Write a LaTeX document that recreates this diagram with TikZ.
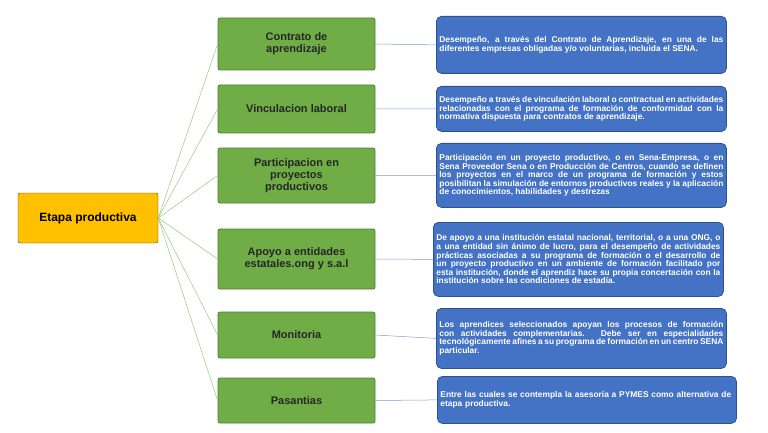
\documentclass[tikz,border=0pt]{standalone}
\usepackage{fontspec}
\setmainfont{Liberation Sans}
\hyphenpenalty=10000
\exhyphenpenalty=10000
\definecolor{gfill}{HTML}{70AD47}
\definecolor{gline}{HTML}{507E32}
\definecolor{bfill}{HTML}{4472C4}
\definecolor{bline}{HTML}{2F528F}
\definecolor{ofill}{HTML}{FFC000}
\tikzset{
 gbox/.style={draw=gline,line width=0.8pt,fill=gfill,rounded corners=2pt,minimum width=157pt,inner sep=2pt,align=center,font=\fontsize{11}{12}\selectfont\bfseries,text=black!85},
 bbox/.style={draw=bline,line width=0.8pt,fill=bfill,rounded corners=5pt,anchor=north west,inner sep=3pt,align=justify,font=\fontsize{8.4}{8.6}\selectfont\bfseries,text=white},
 gcon/.style={draw=gfill!70,line width=0.5pt},
 bcon/.style={draw=bfill!70,line width=0.5pt}
}
\begin{document}
\begin{tikzpicture}[x=1pt,y=-1pt]
\useasboundingbox (0,0) rectangle (768,433);
\node[draw=gline!60!black,fill=ofill,rounded corners=2pt,minimum width=140pt,minimum height=50pt,font=\fontsize{12}{14}\selectfont\bfseries] (e) at (88,218) {Etapa productiva};
\node[gbox,minimum height=52pt] (g1) at (296.5,44) {Contrato de\\aprendizaje};
\node[gbox,minimum height=48pt] (g2) at (296.5,109) {Vinculacion laboral};
\node[gbox,minimum height=55pt] (g3) at (296.5,175.5) {Participacion en\\proyectos\\productivos};
\node[gbox,minimum height=60pt] (g4) at (296.5,259) {Apoyo a entidades\\estatales.ong y s.a.l};
\node[gbox,minimum height=46pt] (g5) at (296.5,335) {Monitoria};
\node[gbox,minimum height=45pt] (g6) at (296.5,400.5) {Pasantias};
\foreach \i in {1,...,6} \draw[gcon] (e.east) -- (g\i.west);
\node[bbox,minimum height=57pt,text width=284pt] (b1) at (436,16) {Desempeño, a través del Contrato de Aprendizaje, en una de las diferentes empresas obligadas y/o voluntarias, incluida el SENA.};
\node[bbox,minimum height=45pt,text width=284pt] (b2) at (436,86) {Desempeño a través de vinculación laboral o contractual en actividades relacionadas con el programa de formación de conformidad con la normativa dispuesta para contratos de aprendizaje.};
\node[bbox,minimum height=64pt,text width=284pt] (b3) at (436,143) {Participación en un proyecto productivo, o en Sena-Empresa, o en Sena Proveedor Sena o en Producción de Centros, cuando se definen los proyectos en el marco de un programa de formación y estos posibilitan la simulación de entornos productivos reales y la aplicación de conocimientos, habilidades y destrezas};
\node[bbox,minimum height=74pt,text width=284pt] (b4) at (433,222) {De apoyo a una institución estatal nacional, territorial, o a una ONG, o a una entidad sin ánimo de lucro, para el desempeño de actividades prácticas asociadas a su programa de formación o el desarrollo de un proyecto productivo en un ambiente de formación facilitado por esta institución, donde el aprendiz hace su propia concertación con la institución sobre las condiciones de estadía.};
\node[bbox,minimum height=60pt,text width=284pt] (b5) at (436,308) {Los aprendices seleccionados apoyan los procesos de formación con actividades complementarias. Debe ser en especialidades tecnológicamente afines a su programa de formación en un centro SENA particular.};
\node[bbox,minimum height=47pt,text width=293pt,align=left] (b6) at (437,376) {Entre las cuales se contempla la asesoría a PYMES como alternativa de etapa productiva.};
\foreach \i in {1,...,6} \draw[bcon] (g\i.east) -- (b\i.west);
\end{tikzpicture}
\end{document}
